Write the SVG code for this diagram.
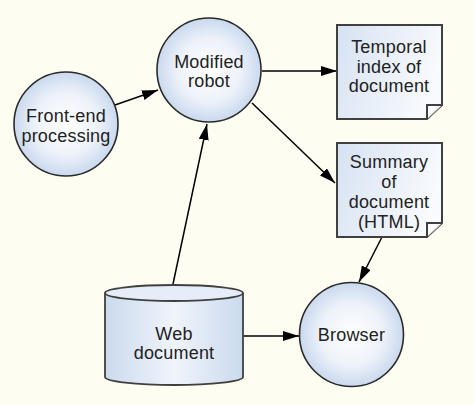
<svg xmlns="http://www.w3.org/2000/svg" width="474" height="405" viewBox="0 0 474 405">
<defs>
<radialGradient id="gc" cx="50%" cy="50%" r="50%">
<stop offset="0" stop-color="#ffffff"/>
<stop offset="0.6" stop-color="#edf2fa"/>
<stop offset="1" stop-color="#cad9ee"/>
</radialGradient>
<linearGradient id="gd" x1="0" y1="0" x2="1" y2="0.3">
<stop offset="0" stop-color="#d6e2f2"/>
<stop offset="1" stop-color="#f8fafd"/>
</linearGradient>
<linearGradient id="gy" x1="0" y1="0" x2="1" y2="0">
<stop offset="0" stop-color="#cbdaee"/>
<stop offset="0.5" stop-color="#f0f4fb"/>
<stop offset="1" stop-color="#cbdaee"/>
</linearGradient>
<marker id="ah" markerUnits="userSpaceOnUse" markerWidth="16" markerHeight="10" refX="16" refY="5" orient="auto">
<path d="M0,0 L16,5 L0,10 z" fill="#000"/>
</marker>
</defs>
<style>
.c{fill:url(#gc);stroke:#2a2a2a;stroke-width:1.6}
.d{fill:url(#gd);stroke:#404040;stroke-width:2}
.cy{fill:url(#gy);stroke:#404040;stroke-width:1.8}
.t{font-family:"Liberation Sans",Arial,sans-serif;font-size:18px;fill:#222;text-anchor:middle;letter-spacing:0.2px}
.e{fill:none;stroke:#000;stroke-width:1.5;marker-end:url(#ah)}
</style>
<rect width="474" height="405" fill="#fdfdf2"/>
<g id="connectors">
<line class="e" x1="115" y1="105" x2="158" y2="90"/>
<line class="e" x1="173" y1="284" x2="207" y2="124"/>
<line class="e" x1="262" y1="71" x2="337" y2="71"/>
<line class="e" x1="252" y1="103" x2="335" y2="183"/>
<line class="e" x1="382" y1="237" x2="359" y2="282"/>
<line class="e" x1="243" y1="336" x2="299" y2="336"/>
</g>
<g id="frontend">
<circle class="c" cx="66" cy="124" r="52"/>
<text class="t" x="66" y="122">Front-end</text>
<text class="t" x="66" y="142">processing</text>
</g>
<g id="robot">
<circle class="c" cx="209" cy="70" r="52"/>
<text class="t" x="209" y="68">Modified</text>
<text class="t" x="209" y="87">robot</text>
</g>
<g id="temporal">
<path class="d" d="M337,25 H442 V105 L427,119 H337 Z"/>
<path d="M427,119 V105 H442 Z" fill="#fbfcfe" stroke="none"/>
<path d="M427,119 L442,105" fill="none" stroke="#b8b8b8" stroke-width="1"/>
<path d="M427,119 V105 H442" fill="none" stroke="#404040" stroke-width="2"/>
<text class="t" x="389" y="53">Temporal</text>
<text class="t" x="389" y="73">index of</text>
<text class="t" x="389" y="92">document</text>
</g>
<g id="summary">
<path class="d" d="M337,143 H442 V223 L427,237 H337 Z"/>
<path d="M427,237 V223 H442 Z" fill="#fbfcfe" stroke="none"/>
<path d="M427,237 L442,223" fill="none" stroke="#b8b8b8" stroke-width="1"/>
<path d="M427,237 V223 H442" fill="none" stroke="#404040" stroke-width="2"/>
<text class="t" x="389" y="168">Summary</text>
<text class="t" x="389" y="188">of</text>
<text class="t" x="389" y="208">document</text>
<text class="t" x="389" y="228">(HTML)</text>
</g>
<g id="webdoc">
<path class="cy" d="M105,293 V377 A69,8 0 0 0 243,377 V293"/>
<ellipse cx="174" cy="293" rx="69" ry="8" fill="#e6edf8" stroke="#404040" stroke-width="1.8"/>
<text class="t" x="174" y="340">Web</text>
<text class="t" x="174" y="359">document</text>
</g>
<g id="browser">
<circle class="c" cx="351.5" cy="334.5" r="52"/>
<text class="t" x="351.5" y="341">Browser</text>
</g>
</svg>
